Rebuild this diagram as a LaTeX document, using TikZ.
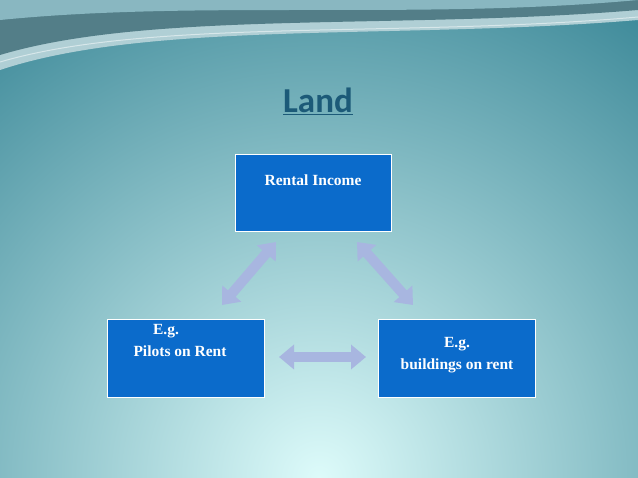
\documentclass[tikz,border=0pt]{standalone}
\usepackage{fontspec}
\setmainfont{Liberation Serif}
\newfontfamily\titlefont{Carlito}
\usetikzlibrary{arrows.meta}
\definecolor{bgout}{HTML}{3A8797}
\definecolor{bgin}{HTML}{DDFBFA}
\definecolor{boxblue}{HTML}{0B6BCB}
\definecolor{arr}{HTML}{A8B6E0}
\definecolor{ttl}{HTML}{1C5A78}
\begin{document}
\begin{tikzpicture}[x=1pt,y=-1pt,
  box/.style={draw=white,line width=1.2pt,fill=boxblue,minimum width=157pt,minimum height=78pt},
  lbl/.style={text=white,font=\bfseries\fontsize{15.5}{19}\selectfont,align=center},
  dbl/.style={draw=arr,line width=10pt,{Triangle[width=24pt,length=15pt]}-{Triangle[width=24pt,length=15pt]}}]
\useasboundingbox (0,0) rectangle (638,478);
\begin{scope}
\clip (0,0) rectangle (638,478);
\shade[inner color=bgin,outer color=bgout] (-261,-102) rectangle (899,1058);
\end{scope}
% top waves
\fill[white!60!bgout] (0,0) -- (0,70) .. controls (150,20) and (400,40) .. (638,20) -- (638,0) -- cycle;
\fill[bgout!70!black!80] (0,0) -- (0,55) .. controls (150,10) and (400,30) .. (638,10) -- (638,0) -- cycle;
\fill[bgout!60!white] (0,0) -- (0,20) .. controls (200,0) and (420,20) .. (638,0) -- cycle;
\draw[white!80!bgout,line width=1pt] (0,62) .. controls (150,18) and (400,38) .. (638,17);
\node[text=ttl,font=\titlefont\bfseries\fontsize{35}{40}\selectfont] (t) at (318,101) {\underline{Land}};
\node[box,anchor=north west,minimum width=156pt,minimum height=77pt] (a) at (235,154) {};
\node[lbl,anchor=north] (at) at (313,171) {Rental Income};
\node[box,anchor=north west] (b) at (107,319) {};
\node[lbl,anchor=north] (bt) at (180,321) {\hspace*{-28pt}E.g.\\[3pt]Pilots on Rent};
\node[box,anchor=north west] (c) at (378,319) {};
\node[lbl,anchor=north] (ct) at (457,334) {E.g.\\[3pt]buildings on rent};
\coordinate (p1) at (222,305); \coordinate (p2) at (276,242);
\coordinate (q1) at (357,242); \coordinate (q2) at (413,305);
\coordinate (r1) at (279,357); \coordinate (r2) at (366,357);
\draw[dbl] (p1) -- (p2);
\draw[dbl] (q1) -- (q2);
\draw[dbl] (r1) -- (r2);
\end{tikzpicture}
\end{document}
